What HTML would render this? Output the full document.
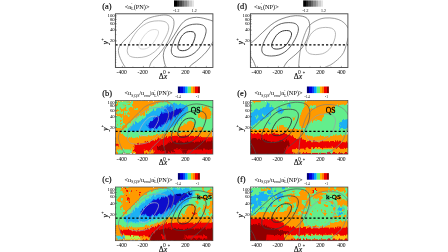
<!DOCTYPE html><html><head><meta charset="utf-8"><title>figure</title><style>html,body{margin:0;padding:0;background:#fff}svg{display:block}text{font-family:"Liberation Serif",serif;fill:#000}</style></head><body>
<svg width="448" height="252" viewBox="0 0 448 252">
<defs><clipPath id="cb"><rect x="0" y="0" width="97.5" height="53.7"/></clipPath>
<filter id="rg" x="-5%" y="-5%" width="110%" height="110%"><feTurbulence type="fractalNoise" baseFrequency="0.5 0.16" numOctaves="2" seed="3" result="n"/><feDisplacementMap in="SourceGraphic" in2="n" scale="4.2" xChannelSelector="R" yChannelSelector="G"/></filter>
<filter id="s1" x="-5%" y="-5%" width="110%" height="110%" color-interpolation-filters="sRGB"><feTurbulence type="fractalNoise" baseFrequency="0.20" numOctaves="2" seed="7" result="n"/><feColorMatrix in="n" type="matrix" values="0 0 0 0 0 0 0 0 0 0 0 0 0 0 0 16 0 0 0 -8.0" result="m"/><feComposite in="SourceGraphic" in2="m" operator="in"/></filter>
<filter id="s2" x="-5%" y="-5%" width="110%" height="110%" color-interpolation-filters="sRGB"><feTurbulence type="fractalNoise" baseFrequency="0.22" numOctaves="2" seed="11" result="n"/><feColorMatrix in="n" type="matrix" values="0 0 0 0 0 0 0 0 0 0 0 0 0 0 0 16 0 0 0 -9.3" result="m"/><feComposite in="SourceGraphic" in2="m" operator="in"/></filter>
<filter id="s3" x="-5%" y="-5%" width="110%" height="110%" color-interpolation-filters="sRGB"><feTurbulence type="fractalNoise" baseFrequency="0.25" numOctaves="2" seed="23" result="n"/><feColorMatrix in="n" type="matrix" values="0 0 0 0 0 0 0 0 0 0 0 0 0 0 0 16 0 0 0 -9.9" result="m"/><feComposite in="SourceGraphic" in2="m" operator="in"/></filter>
<filter id="s4" x="-5%" y="-5%" width="110%" height="110%" color-interpolation-filters="sRGB"><feTurbulence type="fractalNoise" baseFrequency="0.30" numOctaves="2" seed="31" result="n"/><feColorMatrix in="n" type="matrix" values="0 0 0 0 0 0 0 0 0 0 0 0 0 0 0 18 0 0 0 -12.2" result="m"/><feComposite in="SourceGraphic" in2="m" operator="in"/></filter>
<linearGradient id="gg" x1="0" x2="1" y1="0" y2="0">
<stop offset="0.000" stop-color="#000"/><stop offset="0.111" stop-color="#000"/>
<stop offset="0.111" stop-color="#222"/><stop offset="0.222" stop-color="#222"/>
<stop offset="0.222" stop-color="#444"/><stop offset="0.333" stop-color="#444"/>
<stop offset="0.333" stop-color="#666"/><stop offset="0.444" stop-color="#666"/>
<stop offset="0.444" stop-color="#888"/><stop offset="0.556" stop-color="#888"/>
<stop offset="0.556" stop-color="#aaa"/><stop offset="0.667" stop-color="#aaa"/>
<stop offset="0.667" stop-color="#ccc"/><stop offset="0.778" stop-color="#ccc"/>
<stop offset="0.778" stop-color="#e4e4e4"/><stop offset="0.889" stop-color="#e4e4e4"/>
<stop offset="0.889" stop-color="#fff"/><stop offset="1.000" stop-color="#fff"/>
</linearGradient>
<linearGradient id="gc" x1="0" x2="1" y1="0" y2="0">
<stop offset="0.000" stop-color="#000078"/><stop offset="0.094" stop-color="#000078"/>
<stop offset="0.094" stop-color="#0000d8"/><stop offset="0.245" stop-color="#0000d8"/>
<stop offset="0.245" stop-color="#0a3cf5"/><stop offset="0.302" stop-color="#0a3cf5"/>
<stop offset="0.302" stop-color="#00a0ff"/><stop offset="0.396" stop-color="#00a0ff"/>
<stop offset="0.396" stop-color="#38d0e8"/><stop offset="0.453" stop-color="#38d0e8"/>
<stop offset="0.453" stop-color="#62f07a"/><stop offset="0.604" stop-color="#62f07a"/>
<stop offset="0.604" stop-color="#ffb400"/><stop offset="0.679" stop-color="#ffb400"/>
<stop offset="0.679" stop-color="#ff7a00"/><stop offset="0.774" stop-color="#ff7a00"/>
<stop offset="0.774" stop-color="#f00000"/><stop offset="0.925" stop-color="#f00000"/>
<stop offset="0.925" stop-color="#8c0000"/><stop offset="1.000" stop-color="#8c0000"/>
</linearGradient></defs>
<rect width="448" height="252" fill="#fff"/>
<g transform="translate(115.40 13.80)">
<g clip-path="url(#cb)">
<path d="M10.0 53.7C9.4 52.7 7.4 49.8 6.4 47.8C5.4 45.8 4.5 43.7 3.9 41.9C3.3 40.1 3.0 38.4 3.0 36.9C3.0 35.4 3.3 34.1 4.1 32.6C4.9 31.1 6.0 29.9 7.8 27.9C9.6 25.9 12.4 23.3 15.0 20.7C17.6 18.1 20.9 14.8 23.3 12.4C25.7 10.0 27.4 7.8 29.6 6.3C31.9 4.8 34.0 4.0 36.8 3.2C39.6 2.4 43.8 1.7 46.3 1.4C48.8 1.1 50.0 1.2 51.5 1.4C53.0 1.6 53.9 1.9 55.0 2.6C56.1 3.3 57.4 4.2 58.0 5.5C58.6 6.8 58.7 8.5 58.6 10.3C58.5 12.1 58.0 14.3 57.4 16.3C56.8 18.3 55.9 20.2 55.0 22.2C54.1 24.2 53.1 26.6 52.1 28.4C51.1 30.2 50.2 31.4 49.2 32.9C48.2 34.4 47.4 35.7 46.3 37.1C45.2 38.5 44.0 40.0 42.7 41.4C41.4 42.8 39.8 43.9 38.6 45.2C37.4 46.5 36.4 47.6 35.6 49.0C34.8 50.4 34.1 52.9 33.8 53.7" fill="none" stroke="#707070" stroke-width="0.70"/>
<path d="M49.1 25.4C47.5 28.2 45.3 31.6 43.3 33.9C41.3 36.2 39.4 37.8 37.3 39.3C35.2 40.8 33.1 42.0 30.6 42.7C28.1 43.5 24.9 43.8 22.3 43.8C19.8 43.8 17.0 43.5 15.3 42.7C13.6 42.0 12.8 40.8 12.3 39.3C11.8 37.8 11.7 36.2 12.3 33.9C12.9 31.6 14.5 28.2 16.1 25.4C17.7 22.6 19.9 19.2 21.9 16.9C23.9 14.6 25.8 13.0 27.9 11.5C30.0 10.0 32.1 8.8 34.6 8.1C37.1 7.3 40.4 7.0 42.9 7.0C45.4 7.0 48.2 7.3 49.9 8.1C51.6 8.8 52.4 10.0 52.9 11.5C53.4 13.0 53.5 14.6 52.9 16.9C52.3 19.2 50.7 22.6 49.1 25.4Z" fill="none" stroke="#9a9a9a" stroke-width="0.70"/>
<path d="M40.3 25.5C39.4 27.0 38.1 28.8 37.1 30.0C36.1 31.2 35.1 32.1 34.1 32.9C33.1 33.7 32.1 34.3 31.0 34.7C29.9 35.1 28.5 35.3 27.4 35.3C26.3 35.3 25.1 35.1 24.5 34.7C23.9 34.3 23.6 33.7 23.5 32.9C23.4 32.1 23.5 31.2 24.0 30.0C24.5 28.8 25.4 27.0 26.3 25.5C27.2 24.0 28.5 22.2 29.5 21.0C30.5 19.8 31.5 18.9 32.5 18.1C33.5 17.3 34.5 16.7 35.6 16.3C36.7 15.9 38.1 15.7 39.2 15.7C40.3 15.7 41.5 15.9 42.1 16.3C42.8 16.7 43.0 17.3 43.1 18.1C43.2 18.9 43.1 19.8 42.6 21.0C42.1 22.2 41.2 24.0 40.3 25.5Z" fill="none" stroke="#c8c8c8" stroke-width="0.70"/>
<path d="M50.9 53.7C50.6 52.9 49.6 51.0 49.1 49.0C48.6 47.0 47.9 44.1 47.9 41.9C47.9 39.7 48.4 37.7 49.1 35.9C49.8 34.1 51.0 32.8 52.1 31.2C53.2 29.6 54.4 28.0 55.5 26.4C56.6 24.8 57.6 23.1 58.7 21.4C59.8 19.7 60.8 18.0 62.0 16.2C63.2 14.3 64.5 12.0 66.0 10.3C67.5 8.6 68.8 7.2 70.7 6.1C72.6 5.0 75.2 4.2 77.6 3.8C79.9 3.4 82.4 3.5 84.8 3.8C87.2 4.1 89.8 4.9 91.9 5.5C94.1 6.1 96.7 7.0 97.7 7.3" fill="none" stroke="#555" stroke-width="0.70"/>
<path d="M97.7 27.6C97.1 28.6 95.5 31.7 94.3 33.5C93.1 35.3 92.1 36.7 90.7 38.3C89.3 39.9 87.6 41.6 86.0 43.1C84.4 44.6 82.8 45.9 81.2 47.2C79.6 48.5 77.7 49.7 76.4 50.8C75.1 51.9 74.0 53.2 73.5 53.7" fill="none" stroke="#555" stroke-width="0.70"/>
<path d="M87.9 26.9C86.7 29.5 85.0 32.5 83.5 34.6C82.0 36.7 80.4 38.2 78.6 39.5C76.8 40.8 75.1 41.8 72.9 42.5C70.8 43.2 68.0 43.5 65.7 43.5C63.5 43.5 61.0 43.2 59.4 42.5C57.8 41.8 56.9 40.8 56.4 39.5C55.9 38.2 55.7 36.7 56.1 34.6C56.5 32.5 57.5 29.5 58.7 26.9C59.9 24.3 61.6 21.3 63.1 19.2C64.7 17.1 66.2 15.6 68.0 14.3C69.8 13.0 71.5 12.0 73.7 11.3C75.9 10.6 78.7 10.3 80.9 10.3C83.2 10.3 85.7 10.6 87.2 11.3C88.8 12.0 89.7 13.0 90.2 14.3C90.8 15.6 90.9 17.1 90.5 19.2C90.1 21.3 89.1 24.3 87.9 26.9Z" fill="none" stroke="#383838" stroke-width="0.80"/>
<path d="M78.4 27.3C77.8 28.8 77.0 30.6 76.2 31.8C75.4 33.0 74.6 33.9 73.7 34.6C72.8 35.4 72.0 35.9 70.9 36.3C69.8 36.7 68.4 36.9 67.3 36.9C66.2 36.9 64.9 36.7 64.1 36.3C63.3 35.9 63.0 35.4 62.7 34.6C62.4 33.9 62.3 33.0 62.5 31.8C62.7 30.6 63.2 28.8 63.8 27.3C64.4 25.8 65.2 24.0 66.0 22.8C66.8 21.6 67.6 20.8 68.5 20.0C69.4 19.2 70.2 18.7 71.3 18.3C72.4 17.9 73.8 17.7 74.9 17.7C76.0 17.7 77.3 17.9 78.1 18.3C78.9 18.7 79.2 19.2 79.5 20.0C79.8 20.8 79.9 21.6 79.7 22.8C79.5 24.0 79.0 25.8 78.4 27.3Z" fill="none" stroke="#222" stroke-width="0.90"/>
</g>
<path d="M0 31.05H97.5" stroke="#000" stroke-width="1.3" stroke-dasharray="2.2 2.0" fill="none"/>
<rect x="0" y="0" width="97.5" height="53.7" fill="none" stroke="#444" stroke-width="0.9"/>
<path d="M7.00 53.7v-1.6M17.50 53.7v-0.9M28.00 53.7v-1.6M38.50 53.7v-0.9M49.00 53.7v-1.6M59.50 53.7v-0.9M70.00 53.7v-1.6M80.50 53.7v-0.9M91.00 53.7v-1.6M0 52.12h0.9M0 48.65h0.9M0 45.82h0.9M0 43.42h0.9M0 41.35h0.9M0 39.51h0.9M0 37.88h0.9M0 27.10h1.6M0 20.80h0.9M0 16.32h1.6M0 12.85h0.9M0 10.02h1.6M0 7.62h0.9M0 5.55h1.6M0 3.71h0.9M0 2.08h1.6" stroke="#333" stroke-width="0.4" fill="none"/>
<text x="6.3" y="60.3" font-size="5.6" text-anchor="middle" fill="#111">-400</text>
<text x="27.3" y="60.3" font-size="5.6" text-anchor="middle" fill="#111">-200</text>
<text x="49.0" y="60.3" font-size="5.6" text-anchor="middle" fill="#111">0</text>
<text x="70.0" y="60.3" font-size="5.6" text-anchor="middle" fill="#111">200</text>
<text x="91.0" y="60.3" font-size="5.6" text-anchor="middle" fill="#111">400</text>
<text x="-0.7" y="3.5" font-size="4.8" text-anchor="end" fill="#111">100</text>
<text x="-0.7" y="6.9" font-size="4.8" text-anchor="end" fill="#111">80</text>
<text x="-0.7" y="11.4" font-size="4.8" text-anchor="end" fill="#111">60</text>
<text x="-0.7" y="17.7" font-size="4.8" text-anchor="end" fill="#111">40</text>
<text x="-0.7" y="28.5" font-size="4.8" text-anchor="end" fill="#111">20</text>
<text x="43.4" y="65.0" font-size="7.8" stroke="#000" stroke-width="0.1">Δ<tspan font-style="italic">x</tspan><tspan font-size="4.2" dy="-4.6" dx="0.4">+</tspan></text>
<text transform="translate(-7.8 30.4) rotate(-90)" font-size="7.2" stroke="#000" stroke-width="0.15"><tspan font-style="italic">y</tspan><tspan font-size="4.2" dy="-4.0" dx="0.3" stroke-width="0.1">+</tspan></text>
<text x="-13.2" y="-4.9" font-size="8.4" stroke="#000" stroke-width="0.15">(a)</text>
<text x="9.3" y="-5.2" font-size="6.3" fill="#222">&lt;<tspan font-style="italic">u</tspan><tspan font-size="4" dy="-2.2">′</tspan><tspan font-size="4" dy="3.6" dx="-1.1">L</tspan><tspan dy="-1.4">(PN)&gt;</tspan></text>
<rect x="58.6" y="-13.4" width="22.7" height="6.3" fill="url(#gg)"/>
<text x="60.9" y="-2.1" font-size="3.9" text-anchor="middle" fill="#222">-1.2</text>
<text x="78.9" y="-2.1" font-size="3.9" text-anchor="middle" fill="#222">1.2</text>
</g>
<g transform="translate(115.40 100.40)">
<g clip-path="url(#cb)">
<g filter="url(#rg)">
<rect x="0.0" y="0.0" width="97.6" height="53.7" fill="#ff9a00"/>
<path d="M4.5 31.8L6.0 29.2L9.9 27.6L14.1 22.8L18.8 18.1L23.0 15.4L28.9 15.4L31.0 10.9L34.1 6.6L39.7 4.1L46.2 2.4L51.4 1.4L52.5 4.5L54.0 -0.0L54.0 -4.8L101.3 -4.8L101.3 30.8L53.7 31.5L53.1 33.5L50.6 33.0L46.2 33.9L41.4 34.5L36.7 34.9L31.9 36.1L27.2 35.7L22.4 36.9L17.6 37.5L11.7 36.9L6.9 35.7Z" fill="#64ee8c"/>
<path d="M1.0 3.0L4.0 1.2L10.5 0.9L15.3 1.4L16.7 4.1L14.7 6.5L12.9 9.5L13.5 12.5L10.5 14.3L8.1 11.3L9.9 7.7L10.5 4.5L5.7 3.8L4.3 7.1L4.5 13.1L1.0 13.7Z" fill="#64ee8c"/>
<path d="M6.7 4.7L9.3 4.7L9.3 6.6L6.7 6.6Z" fill="#64ee8c"/>
<path d="M-1.4 16.6L3.4 15.4L6.9 17.2L7.5 20.2L5.7 23.2L6.3 27.6L-1.4 27.6Z" fill="#64ee8c"/>
<path d="M20.0 7.7L22.4 7.7L22.4 9.5L20.0 9.5Z" fill="#64ee8c"/>
<path d="M23.0 11.9L24.3 11.9L24.3 13.7L23.0 13.7Z" fill="#64ee8c"/>
</g>
<path d="M-1.4 -0.0L18.8 -0.0L16.4 10.7L9.3 26.2L-1.4 27.3Z" fill="#64ee8c" filter="url(#s2)"/>
<path d="M-1.4 -0.0L18.8 -0.0L16.4 10.7L9.3 26.2L-1.4 27.3Z" fill="#ff9a00" filter="url(#s3)"/>
<g filter="url(#rg)">
<path d="M82.3 14.3L85.9 11.9L87.7 6.5L91.8 5.9L95.4 8.3L96.0 13.1L94.2 18.4L89.4 19.0L85.9 17.8L82.9 17.2Z" fill="#ff9a00"/>
<path d="M72.5 22.0L75.2 20.2L78.1 21.4L79.3 26.2L71.0 30.4L61.8 30.4L62.7 27.4Z" fill="#ff9a00"/>
<path d="M70.4 30.4L71.0 27.3L74.6 26.3L78.7 26.6L81.1 28.2L80.9 30.4Z" fill="#ff9a00"/>
<path d="M81.1 30.4L81.3 27.4L84.7 26.2L87.7 27.4L87.1 30.4Z" fill="#ff9a00"/>
<path d="M11.1 30.9L13.5 27.6L16.5 24.7L20.6 22.0L26.0 20.2L29.8 17.2L33.1 13.7L36.7 10.7L41.4 8.1L46.2 6.1L53.2 4.0L60.3 3.2L68.6 4.2L72.6 5.6L72.8 10.1L70.6 14.1L66.6 18.1L62.1 22.1L57.6 26.1L52.6 29.8L49.6 30.9Z" fill="#1fb0f4"/>
<path d="M32.1 23.9L36.2 20.1L41.0 15.4L47.8 11.3L52.8 11.8L57.8 9.8L62.7 8.2L67.0 7.1L68.9 9.7L66.5 12.3L61.8 14.8L55.7 19.9L48.0 24.8L41.6 28.2L35.3 28.5L31.8 26.3Z" fill="#1468f2"/>
<path d="M48.4 8.1L54.6 6.1L58.6 7.6L56.6 11.6L50.6 13.1Z" fill="#1468f2"/>
<path d="M33.5 23.4L37.7 19.8L42.5 15.7L48.4 12.7L52.2 13.2L56.7 10.9L61.5 9.1L65.7 7.9L67.5 10.3L65.1 12.7L60.3 15.1L54.4 19.2L48.4 23.4L42.5 27.0L36.5 27.6L33.1 25.6Z" fill="#0a0acc"/>
<path d="M17.4 45.2L22.4 43.4L27.2 42.9L31.9 41.7L36.7 40.5L41.4 38.7L46.2 37.5L51.4 36.5L57.3 35.4L70.4 35.4L82.3 35.7L85.9 36.9L101.3 36.9L101.3 57.7L18.8 57.7L20.0 52.4L18.2 49.4L19.4 47.6Z" fill="#ee0606"/>
<path d="M28.3 50.4L37.9 49.8L38.5 53.0L28.9 53.4Z" fill="#ff9a00"/>
<path d="M42.6 45.8L50.6 44.6L53.7 41.7L64.4 40.8L76.3 41.7L88.2 40.8L101.3 41.1L101.3 49.4L85.9 49.2L71.6 49.4L58.5 48.8L50.2 50.0L46.2 51.2L42.9 49.4Z" fill="#900303"/>
<path d="M50.2 48.8L58.5 48.8L58.5 51.8L50.2 51.8Z" fill="#900303"/>
<path d="M66.8 49.4L71.6 49.4L71.6 52.4L66.8 52.4Z" fill="#900303"/>
<path d="M1.6 49.4L5.7 48.8L16.4 49.2L16.4 53.2L1.6 53.6Z" fill="#64ee8c"/>
<path d="M-1.4 43.4L2.2 43.4L2.2 46.4L-1.4 46.4Z" fill="#ee0606"/>
</g>
<path d="M10.0 53.7C9.4 52.7 7.4 49.8 6.4 47.8C5.4 45.8 4.5 43.7 3.9 41.9C3.3 40.1 3.0 38.4 3.0 36.9C3.0 35.4 3.3 34.1 4.1 32.6C4.9 31.1 6.0 29.9 7.8 27.9C9.6 25.9 12.4 23.3 15.0 20.7C17.6 18.1 20.9 14.8 23.3 12.4C25.7 10.0 27.4 7.8 29.6 6.3C31.9 4.8 34.0 4.0 36.8 3.2C39.6 2.4 43.8 1.7 46.3 1.4C48.8 1.1 50.0 1.2 51.5 1.4C53.0 1.6 53.9 1.9 55.0 2.6C56.1 3.3 57.4 4.2 58.0 5.5C58.6 6.8 58.7 8.5 58.6 10.3C58.5 12.1 58.0 14.3 57.4 16.3C56.8 18.3 55.9 20.2 55.0 22.2C54.1 24.2 53.1 26.6 52.1 28.4C51.1 30.2 50.2 31.4 49.2 32.9C48.2 34.4 47.4 35.7 46.3 37.1C45.2 38.5 44.0 40.0 42.7 41.4C41.4 42.8 39.8 43.9 38.6 45.2C37.4 46.5 36.4 47.6 35.6 49.0C34.8 50.4 34.1 52.9 33.8 53.7" fill="none" stroke="#808080" stroke-width="0.70"/>
<path d="M49.1 25.4C47.5 28.2 45.3 31.6 43.3 33.9C41.3 36.2 39.4 37.8 37.3 39.3C35.2 40.8 33.1 42.0 30.6 42.7C28.1 43.5 24.9 43.8 22.3 43.8C19.8 43.8 17.0 43.5 15.3 42.7C13.6 42.0 12.8 40.8 12.3 39.3C11.8 37.8 11.7 36.2 12.3 33.9C12.9 31.6 14.5 28.2 16.1 25.4C17.7 22.6 19.9 19.2 21.9 16.9C23.9 14.6 25.8 13.0 27.9 11.5C30.0 10.0 32.1 8.8 34.6 8.1C37.1 7.3 40.4 7.0 42.9 7.0C45.4 7.0 48.2 7.3 49.9 8.1C51.6 8.8 52.4 10.0 52.9 11.5C53.4 13.0 53.5 14.6 52.9 16.9C52.3 19.2 50.7 22.6 49.1 25.4Z" fill="none" stroke="#9aa0a6" stroke-width="0.70"/>
<path d="M40.3 25.5C39.4 27.0 38.1 28.8 37.1 30.0C36.1 31.2 35.1 32.1 34.1 32.9C33.1 33.7 32.1 34.3 31.0 34.7C29.9 35.1 28.5 35.3 27.4 35.3C26.3 35.3 25.1 35.1 24.5 34.7C23.9 34.3 23.6 33.7 23.5 32.9C23.4 32.1 23.5 31.2 24.0 30.0C24.5 28.8 25.4 27.0 26.3 25.5C27.2 24.0 28.5 22.2 29.5 21.0C30.5 19.8 31.5 18.9 32.5 18.1C33.5 17.3 34.5 16.7 35.6 16.3C36.7 15.9 38.1 15.7 39.2 15.7C40.3 15.7 41.5 15.9 42.1 16.3C42.8 16.7 43.0 17.3 43.1 18.1C43.2 18.9 43.1 19.8 42.6 21.0C42.1 22.2 41.2 24.0 40.3 25.5Z" fill="none" stroke="#b4bcc6" stroke-width="0.70"/>
<path d="M50.9 53.7C50.6 52.9 49.6 51.0 49.1 49.0C48.6 47.0 47.9 44.1 47.9 41.9C47.9 39.7 48.4 37.7 49.1 35.9C49.8 34.1 51.0 32.8 52.1 31.2C53.2 29.6 54.4 28.0 55.5 26.4C56.6 24.8 57.6 23.1 58.7 21.4C59.8 19.7 60.8 18.0 62.0 16.2C63.2 14.3 64.5 12.0 66.0 10.3C67.5 8.6 68.8 7.2 70.7 6.1C72.6 5.0 75.2 4.2 77.6 3.8C79.9 3.4 82.4 3.5 84.8 3.8C87.2 4.1 89.8 4.9 91.9 5.5C94.1 6.1 96.7 7.0 97.7 7.3" fill="none" stroke="#505050" stroke-width="0.70"/>
<path d="M97.7 27.6C97.1 28.6 95.5 31.7 94.3 33.5C93.1 35.3 92.1 36.7 90.7 38.3C89.3 39.9 87.6 41.6 86.0 43.1C84.4 44.6 82.8 45.9 81.2 47.2C79.6 48.5 77.7 49.7 76.4 50.8C75.1 51.9 74.0 53.2 73.5 53.7" fill="none" stroke="#505050" stroke-width="0.70"/>
<path d="M87.9 26.9C86.7 29.5 85.0 32.5 83.5 34.6C82.0 36.7 80.4 38.2 78.6 39.5C76.8 40.8 75.1 41.8 72.9 42.5C70.8 43.2 68.0 43.5 65.7 43.5C63.5 43.5 61.0 43.2 59.4 42.5C57.8 41.8 56.9 40.8 56.4 39.5C55.9 38.2 55.7 36.7 56.1 34.6C56.5 32.5 57.5 29.5 58.7 26.9C59.9 24.3 61.6 21.3 63.1 19.2C64.7 17.1 66.2 15.6 68.0 14.3C69.8 13.0 71.5 12.0 73.7 11.3C75.9 10.6 78.7 10.3 80.9 10.3C83.2 10.3 85.7 10.6 87.2 11.3C88.8 12.0 89.7 13.0 90.2 14.3C90.8 15.6 90.9 17.1 90.5 19.2C90.1 21.3 89.1 24.3 87.9 26.9Z" fill="none" stroke="#3e3e3e" stroke-width="0.80"/>
<path d="M78.4 27.3C77.8 28.8 77.0 30.6 76.2 31.8C75.4 33.0 74.6 33.9 73.7 34.6C72.8 35.4 72.0 35.9 70.9 36.3C69.8 36.7 68.4 36.9 67.3 36.9C66.2 36.9 64.9 36.7 64.1 36.3C63.3 35.9 63.0 35.4 62.7 34.6C62.4 33.9 62.3 33.0 62.5 31.8C62.7 30.6 63.2 28.8 63.8 27.3C64.4 25.8 65.2 24.0 66.0 22.8C66.8 21.6 67.6 20.8 68.5 20.0C69.4 19.2 70.2 18.7 71.3 18.3C72.4 17.9 73.8 17.7 74.9 17.7C76.0 17.7 77.3 17.9 78.1 18.3C78.9 18.7 79.2 19.2 79.5 20.0C79.8 20.8 79.9 21.6 79.7 22.8C79.5 24.0 79.0 25.8 78.4 27.3Z" fill="none" stroke="#2c2c2c" stroke-width="0.90"/>
</g>
<path d="M0 31.05H97.5" stroke="#000" stroke-width="1.3" stroke-dasharray="2.2 2.0" fill="none"/>
<rect x="0" y="0" width="97.5" height="53.7" fill="none" stroke="#444" stroke-width="0.7"/>
<path d="M7.00 53.7v-1.6M17.50 53.7v-0.9M28.00 53.7v-1.6M38.50 53.7v-0.9M49.00 53.7v-1.6M59.50 53.7v-0.9M70.00 53.7v-1.6M80.50 53.7v-0.9M91.00 53.7v-1.6M0 52.12h0.9M0 48.65h0.9M0 45.82h0.9M0 43.42h0.9M0 41.35h0.9M0 39.51h0.9M0 37.88h0.9M0 27.10h1.6M0 20.80h0.9M0 16.32h1.6M0 12.85h0.9M0 10.02h1.6M0 7.62h0.9M0 5.55h1.6M0 3.71h0.9M0 2.08h1.6" stroke="#333" stroke-width="0.4" fill="none"/>
<text x="6.3" y="60.3" font-size="5.6" text-anchor="middle" fill="#111">-400</text>
<text x="27.3" y="60.3" font-size="5.6" text-anchor="middle" fill="#111">-200</text>
<text x="49.0" y="60.3" font-size="5.6" text-anchor="middle" fill="#111">0</text>
<text x="70.0" y="60.3" font-size="5.6" text-anchor="middle" fill="#111">200</text>
<text x="91.0" y="60.3" font-size="5.6" text-anchor="middle" fill="#111">400</text>
<text x="-0.7" y="3.5" font-size="4.8" text-anchor="end" fill="#111">100</text>
<text x="-0.7" y="6.9" font-size="4.8" text-anchor="end" fill="#111">80</text>
<text x="-0.7" y="11.4" font-size="4.8" text-anchor="end" fill="#111">60</text>
<text x="-0.7" y="17.7" font-size="4.8" text-anchor="end" fill="#111">40</text>
<text x="-0.7" y="28.5" font-size="4.8" text-anchor="end" fill="#111">20</text>
<text x="43.4" y="65.0" font-size="7.8" stroke="#000" stroke-width="0.1">Δ<tspan font-style="italic">x</tspan><tspan font-size="4.2" dy="-4.6" dx="0.4">+</tspan></text>
<text transform="translate(-7.8 30.4) rotate(-90)" font-size="7.2" stroke="#000" stroke-width="0.15"><tspan font-style="italic">y</tspan><tspan font-size="4.2" dy="-4.0" dx="0.3" stroke-width="0.1">+</tspan></text>
<text x="-13.2" y="-4.9" font-size="8.4" stroke="#000" stroke-width="0.15">(b)</text>
<text x="9.1" y="-5.2" font-size="6.3" fill="#222">&lt;<tspan font-style="italic">u</tspan><tspan font-size="3.9" dy="1.6">S,QS</tspan><tspan dy="-1.6">/</tspan><tspan font-style="italic">u</tspan><tspan font-size="3.9" dy="1.6">rms</tspan><tspan dy="-1.6">|</tspan><tspan font-style="italic">u</tspan><tspan font-size="4" dy="-2.2">′</tspan><tspan font-size="4" dy="3.6" dx="-1.1">L</tspan><tspan dy="-1.4">(PN)&gt;</tspan></text>
<rect x="62.5" y="-13.9" width="22.0" height="6.6" fill="url(#gc)"/>
<text x="62.7" y="-2.1" font-size="3.4" text-anchor="middle" fill="#222">-1.4</text>
<text x="82.1" y="-2.1" font-size="3.4" text-anchor="middle" fill="#222">-1</text>
<text x="80.2" y="13.0" font-size="7.7" text-anchor="middle" stroke="#000" stroke-width="0.28">QS</text>
</g>
<g transform="translate(115.40 187.00)">
<g clip-path="url(#cb)">
<g filter="url(#rg)">
<rect x="0.0" y="0.0" width="97.6" height="53.7" fill="#ff9a00"/>
<path d="M-1.4 0.6L4.0 0.3L5.7 2.4L3.4 5.3L4.5 8.9L2.2 10.1L-1.4 9.5Z" fill="#64ee8c"/>
<path d="M-1.4 14.8L3.4 14.3L5.1 17.2L4.5 20.8L6.9 24.4L8.1 27.0L5.7 30.4L-1.4 30.4Z" fill="#64ee8c"/>
<path d="M11.7 11.3L14.1 11.3L14.1 14.3L11.7 14.3Z" fill="#ee0606"/>
<path d="M15.3 2.4L17.6 2.4L17.6 3.7L15.3 3.7Z" fill="#ee0606"/>
</g>
<path d="M-1.4 -0.6L16.4 -0.6L12.9 11.3L9.3 27.0L-1.4 27.0Z" fill="#64ee8c" filter="url(#s2)"/>
<path d="M5.7 0.6L34.3 0.6L16.4 16.0L5.7 16.0Z" fill="#ee0606" filter="url(#s4)"/>
<path d="M-1.4 -0.6L5.7 -0.6L6.9 27.0L-1.4 27.0Z" fill="#64ee8c" filter="url(#s1)"/>
<g filter="url(#rg)">
<path d="M-1.4 37.5L-1.4 30.4L5.7 29.8L9.9 27.0L13.5 23.2L17.6 18.4L22.4 13.7L27.2 8.9L31.9 5.6L37.9 3.2L45.0 2.0L51.4 1.5L53.7 -0.4L85.9 -0.4L87.1 4.1L97.2 8.3L101.3 8.3L101.3 29.8L82.3 29.8L65.6 30.2L52.5 30.7L52.5 32.9L46.6 33.3L46.2 35.1L40.2 36.3L34.3 38.1L27.2 39.9L20.0 40.5L12.9 39.9L5.7 38.7Z" fill="#64ee8c"/>
<path d="M70.4 27.0L71.0 22.6L73.4 19.0L77.5 17.8L81.1 19.6L82.3 23.2L82.3 27.0L82.3 30.0L65.6 30.0L66.2 26.2Z" fill="#ff9a00"/>
<path d="M77.8 25.1L80.2 25.1L80.2 27.5L77.8 27.5Z" fill="#ee0606"/>
<path d="M89.7 10.7L93.6 7.5L101.3 7.1L101.3 27.0L88.2 27.0L87.8 20.8L89.2 16.0Z" fill="#ff9a00"/>
<path d="M87.1 -0.4L101.3 -0.4L101.3 3.9L94.2 3.2L88.2 3.7Z" fill="#ff9a00"/>
</g>
<path d="M87.1 -0.4L101.3 -0.4L101.3 27.0L89.4 27.0Z" fill="#64ee8c" filter="url(#s1)"/>
<path d="M79.9 6.5L91.8 6.5L91.8 27.0L79.9 27.0Z" fill="#ff9a00" filter="url(#s2)"/>
<g filter="url(#rg)">
<path d="M7.0 30.2L13.2 27.1L16.7 23.9L20.8 20.0L25.6 16.0L30.5 11.9L35.2 8.1L40.7 5.5L46.5 3.9L52.4 2.1L60.0 1.0L66.2 0.6L72.3 0.9L77.2 2.0L79.8 3.9L79.1 7.9L75.8 12.6L71.8 16.4L66.3 20.8L60.6 25.5L53.9 29.7L46.9 32.4L35.5 33.4L33.5 36.4L20.9 36.4L9.6 35.0L6.5 32.3Z" fill="#3cd6dc"/>
<path d="M9.1 29.5L15.3 26.5L18.8 23.4L23.0 19.8L27.8 16.2L32.5 12.7L36.7 9.7L41.4 7.6L46.2 6.1L51.4 4.1L58.5 2.6L64.5 2.0L70.4 2.0L75.2 3.0L77.8 4.7L77.0 8.5L73.6 13.0L69.6 16.5L64.1 20.5L58.6 24.5L52.6 28.0L46.6 30.2L36.6 31.5L34.6 34.5L22.6 35.0L11.6 34.0L8.6 31.5Z" fill="#1fb0f4"/>
<path d="M24.5 24.9L29.2 19.9L34.3 16.0L39.4 12.3L45.9 9.7L53.0 7.9L59.3 7.0L66.7 5.7L72.3 5.9L75.0 8.4L71.2 11.2L65.7 14.3L59.7 18.2L54.4 22.5L47.8 26.8L41.7 28.6L33.1 29.4L25.7 27.4Z" fill="#1468f2"/>
<path d="M25.7 24.5L30.5 19.7L35.6 16.0L40.6 12.8L46.6 10.8L52.6 9.1L58.4 7.9L65.6 6.4L71.1 6.5L73.8 8.8L69.9 11.5L64.4 14.5L58.4 18.0L53.6 21.5L48.1 25.5L42.4 27.5L34.1 28.6L26.9 26.9Z" fill="#0a0acc"/>
<path d="M60.9 7.2L65.6 7.0L65.6 8.9L60.9 8.9Z" fill="#000088"/>
<path d="M72.8 5.3L75.2 5.3L75.2 7.2L72.8 7.2Z" fill="#000088"/>
<path d="M-1.4 37.9L4.5 38.3L4.5 47.6L-1.4 47.6Z" fill="#ff9a00"/>
<path d="M4.5 42.8L12.9 42.8L20.0 43.8L27.2 43.1L34.3 41.2L40.2 39.0L46.2 37.5L51.4 35.9L64.4 35.5L82.3 35.7L101.3 35.5L101.3 57.1L27.2 57.1L26.0 48.8L12.9 48.2L5.7 47.0Z" fill="#ee0606"/>
<path d="M36.7 46.4L40.2 44.0L46.2 42.3L51.4 41.4L64.4 41.9L82.3 41.4L101.3 41.7L101.3 57.1L34.3 57.1L34.9 49.4Z" fill="#900303"/>
<path d="M69.2 48.4L91.8 48.4L91.8 51.7L69.2 51.7Z" fill="#ee0606"/>
<path d="M46.6 47.6L50.2 47.6L50.2 53.6L46.6 53.6Z" fill="#ee0606"/>
<path d="M1.0 48.8L10.5 48.8L10.5 52.4L1.0 52.4Z" fill="#3cd6dc"/>
<path d="M10.5 48.8L26.0 49.0L26.0 52.6L10.5 52.4Z" fill="#b4f050"/>
<path d="M26.0 49.4L34.3 49.4L34.3 52.6L26.0 52.6Z" fill="#ff9a00"/>
</g>
<path d="M10.0 53.7C9.4 52.7 7.4 49.8 6.4 47.8C5.4 45.8 4.5 43.7 3.9 41.9C3.3 40.1 3.0 38.4 3.0 36.9C3.0 35.4 3.3 34.1 4.1 32.6C4.9 31.1 6.0 29.9 7.8 27.9C9.6 25.9 12.4 23.3 15.0 20.7C17.6 18.1 20.9 14.8 23.3 12.4C25.7 10.0 27.4 7.8 29.6 6.3C31.9 4.8 34.0 4.0 36.8 3.2C39.6 2.4 43.8 1.7 46.3 1.4C48.8 1.1 50.0 1.2 51.5 1.4C53.0 1.6 53.9 1.9 55.0 2.6C56.1 3.3 57.4 4.2 58.0 5.5C58.6 6.8 58.7 8.5 58.6 10.3C58.5 12.1 58.0 14.3 57.4 16.3C56.8 18.3 55.9 20.2 55.0 22.2C54.1 24.2 53.1 26.6 52.1 28.4C51.1 30.2 50.2 31.4 49.2 32.9C48.2 34.4 47.4 35.7 46.3 37.1C45.2 38.5 44.0 40.0 42.7 41.4C41.4 42.8 39.8 43.9 38.6 45.2C37.4 46.5 36.4 47.6 35.6 49.0C34.8 50.4 34.1 52.9 33.8 53.7" fill="none" stroke="#808080" stroke-width="0.70"/>
<path d="M49.1 25.4C47.5 28.2 45.3 31.6 43.3 33.9C41.3 36.2 39.4 37.8 37.3 39.3C35.2 40.8 33.1 42.0 30.6 42.7C28.1 43.5 24.9 43.8 22.3 43.8C19.8 43.8 17.0 43.5 15.3 42.7C13.6 42.0 12.8 40.8 12.3 39.3C11.8 37.8 11.7 36.2 12.3 33.9C12.9 31.6 14.5 28.2 16.1 25.4C17.7 22.6 19.9 19.2 21.9 16.9C23.9 14.6 25.8 13.0 27.9 11.5C30.0 10.0 32.1 8.8 34.6 8.1C37.1 7.3 40.4 7.0 42.9 7.0C45.4 7.0 48.2 7.3 49.9 8.1C51.6 8.8 52.4 10.0 52.9 11.5C53.4 13.0 53.5 14.6 52.9 16.9C52.3 19.2 50.7 22.6 49.1 25.4Z" fill="none" stroke="#9aa0a6" stroke-width="0.70"/>
<path d="M40.3 25.5C39.4 27.0 38.1 28.8 37.1 30.0C36.1 31.2 35.1 32.1 34.1 32.9C33.1 33.7 32.1 34.3 31.0 34.7C29.9 35.1 28.5 35.3 27.4 35.3C26.3 35.3 25.1 35.1 24.5 34.7C23.9 34.3 23.6 33.7 23.5 32.9C23.4 32.1 23.5 31.2 24.0 30.0C24.5 28.8 25.4 27.0 26.3 25.5C27.2 24.0 28.5 22.2 29.5 21.0C30.5 19.8 31.5 18.9 32.5 18.1C33.5 17.3 34.5 16.7 35.6 16.3C36.7 15.9 38.1 15.7 39.2 15.7C40.3 15.7 41.5 15.9 42.1 16.3C42.8 16.7 43.0 17.3 43.1 18.1C43.2 18.9 43.1 19.8 42.6 21.0C42.1 22.2 41.2 24.0 40.3 25.5Z" fill="none" stroke="#b4bcc6" stroke-width="0.70"/>
<path d="M50.9 53.7C50.6 52.9 49.6 51.0 49.1 49.0C48.6 47.0 47.9 44.1 47.9 41.9C47.9 39.7 48.4 37.7 49.1 35.9C49.8 34.1 51.0 32.8 52.1 31.2C53.2 29.6 54.4 28.0 55.5 26.4C56.6 24.8 57.6 23.1 58.7 21.4C59.8 19.7 60.8 18.0 62.0 16.2C63.2 14.3 64.5 12.0 66.0 10.3C67.5 8.6 68.8 7.2 70.7 6.1C72.6 5.0 75.2 4.2 77.6 3.8C79.9 3.4 82.4 3.5 84.8 3.8C87.2 4.1 89.8 4.9 91.9 5.5C94.1 6.1 96.7 7.0 97.7 7.3" fill="none" stroke="#505050" stroke-width="0.70"/>
<path d="M97.7 27.6C97.1 28.6 95.5 31.7 94.3 33.5C93.1 35.3 92.1 36.7 90.7 38.3C89.3 39.9 87.6 41.6 86.0 43.1C84.4 44.6 82.8 45.9 81.2 47.2C79.6 48.5 77.7 49.7 76.4 50.8C75.1 51.9 74.0 53.2 73.5 53.7" fill="none" stroke="#505050" stroke-width="0.70"/>
<path d="M87.9 26.9C86.7 29.5 85.0 32.5 83.5 34.6C82.0 36.7 80.4 38.2 78.6 39.5C76.8 40.8 75.1 41.8 72.9 42.5C70.8 43.2 68.0 43.5 65.7 43.5C63.5 43.5 61.0 43.2 59.4 42.5C57.8 41.8 56.9 40.8 56.4 39.5C55.9 38.2 55.7 36.7 56.1 34.6C56.5 32.5 57.5 29.5 58.7 26.9C59.9 24.3 61.6 21.3 63.1 19.2C64.7 17.1 66.2 15.6 68.0 14.3C69.8 13.0 71.5 12.0 73.7 11.3C75.9 10.6 78.7 10.3 80.9 10.3C83.2 10.3 85.7 10.6 87.2 11.3C88.8 12.0 89.7 13.0 90.2 14.3C90.8 15.6 90.9 17.1 90.5 19.2C90.1 21.3 89.1 24.3 87.9 26.9Z" fill="none" stroke="#3e3e3e" stroke-width="0.80"/>
<path d="M78.4 27.3C77.8 28.8 77.0 30.6 76.2 31.8C75.4 33.0 74.6 33.9 73.7 34.6C72.8 35.4 72.0 35.9 70.9 36.3C69.8 36.7 68.4 36.9 67.3 36.9C66.2 36.9 64.9 36.7 64.1 36.3C63.3 35.9 63.0 35.4 62.7 34.6C62.4 33.9 62.3 33.0 62.5 31.8C62.7 30.6 63.2 28.8 63.8 27.3C64.4 25.8 65.2 24.0 66.0 22.8C66.8 21.6 67.6 20.8 68.5 20.0C69.4 19.2 70.2 18.7 71.3 18.3C72.4 17.9 73.8 17.7 74.9 17.7C76.0 17.7 77.3 17.9 78.1 18.3C78.9 18.7 79.2 19.2 79.5 20.0C79.8 20.8 79.9 21.6 79.7 22.8C79.5 24.0 79.0 25.8 78.4 27.3Z" fill="none" stroke="#2c2c2c" stroke-width="0.90"/>
</g>
<path d="M0 31.05H97.5" stroke="#000" stroke-width="1.3" stroke-dasharray="2.2 2.0" fill="none"/>
<rect x="0" y="0" width="97.5" height="53.7" fill="none" stroke="#444" stroke-width="0.7"/>
<path d="M7.00 53.7v-1.6M17.50 53.7v-0.9M28.00 53.7v-1.6M38.50 53.7v-0.9M49.00 53.7v-1.6M59.50 53.7v-0.9M70.00 53.7v-1.6M80.50 53.7v-0.9M91.00 53.7v-1.6M0 52.12h0.9M0 48.65h0.9M0 45.82h0.9M0 43.42h0.9M0 41.35h0.9M0 39.51h0.9M0 37.88h0.9M0 27.10h1.6M0 20.80h0.9M0 16.32h1.6M0 12.85h0.9M0 10.02h1.6M0 7.62h0.9M0 5.55h1.6M0 3.71h0.9M0 2.08h1.6" stroke="#333" stroke-width="0.4" fill="none"/>
<text x="6.3" y="60.3" font-size="5.6" text-anchor="middle" fill="#111">-400</text>
<text x="27.3" y="60.3" font-size="5.6" text-anchor="middle" fill="#111">-200</text>
<text x="49.0" y="60.3" font-size="5.6" text-anchor="middle" fill="#111">0</text>
<text x="70.0" y="60.3" font-size="5.6" text-anchor="middle" fill="#111">200</text>
<text x="91.0" y="60.3" font-size="5.6" text-anchor="middle" fill="#111">400</text>
<text x="-0.7" y="3.5" font-size="4.8" text-anchor="end" fill="#111">100</text>
<text x="-0.7" y="6.9" font-size="4.8" text-anchor="end" fill="#111">80</text>
<text x="-0.7" y="11.4" font-size="4.8" text-anchor="end" fill="#111">60</text>
<text x="-0.7" y="17.7" font-size="4.8" text-anchor="end" fill="#111">40</text>
<text x="-0.7" y="28.5" font-size="4.8" text-anchor="end" fill="#111">20</text>
<text x="43.4" y="65.0" font-size="7.8" stroke="#000" stroke-width="0.1">Δ<tspan font-style="italic">x</tspan><tspan font-size="4.2" dy="-4.6" dx="0.4">+</tspan></text>
<text transform="translate(-7.8 30.4) rotate(-90)" font-size="7.2" stroke="#000" stroke-width="0.15"><tspan font-style="italic">y</tspan><tspan font-size="4.2" dy="-4.0" dx="0.3" stroke-width="0.1">+</tspan></text>
<text x="-13.2" y="-4.9" font-size="8.4" stroke="#000" stroke-width="0.15">(c)</text>
<text x="9.1" y="-5.2" font-size="6.3" fill="#222">&lt;<tspan font-style="italic">u</tspan><tspan font-size="3.9" dy="1.6">S,QS</tspan><tspan dy="-1.6">/</tspan><tspan font-style="italic">u</tspan><tspan font-size="3.9" dy="1.6">rms</tspan><tspan dy="-1.6">|</tspan><tspan font-style="italic">u</tspan><tspan font-size="4" dy="-2.2">′</tspan><tspan font-size="4" dy="3.6" dx="-1.1">L</tspan><tspan dy="-1.4">(PN)&gt;</tspan></text>
<rect x="62.5" y="-13.9" width="22.0" height="6.6" fill="url(#gc)"/>
<text x="62.7" y="-2.1" font-size="3.4" text-anchor="middle" fill="#222">-1.4</text>
<text x="82.1" y="-2.1" font-size="3.4" text-anchor="middle" fill="#222">-1</text>
<text x="89.0" y="12.2" font-size="7.1" text-anchor="middle" stroke="#000" stroke-width="0.28">k-QS</text>
</g>
<g transform="translate(250.40 13.80)">
<g clip-path="url(#cb)">
<path d="M0.0 29.8C0.8 29.1 3.2 27.2 4.7 25.8C6.2 24.4 7.7 23.0 9.3 21.4C11.0 19.8 12.7 18.1 14.6 16.4C16.5 14.7 18.5 12.6 20.7 11.0C22.9 9.4 25.2 7.8 27.7 6.6C30.2 5.4 32.9 4.4 35.7 3.6C38.6 2.8 41.8 2.0 44.8 1.9C47.8 1.8 51.7 2.1 54.0 3.0C56.3 3.9 57.8 5.3 58.6 7.6C59.5 9.9 59.5 13.7 59.1 16.8C58.7 19.9 57.5 23.1 56.3 26.0C55.1 28.9 53.6 31.6 51.7 34.1C49.8 36.6 47.1 38.9 44.8 41.0C42.5 43.1 39.6 45.1 37.9 46.8C36.2 48.5 35.2 50.2 34.4 51.4C33.6 52.6 33.5 53.5 33.3 53.9" fill="none" stroke="#555" stroke-width="0.70"/>
<path d="M0.0 42.2C0.5 43.2 2.4 46.0 3.3 47.9C4.2 49.8 5.2 52.9 5.6 53.9" fill="none" stroke="#555" stroke-width="0.70"/>
<path d="M44.6 25.5C43.3 28.1 41.4 31.1 39.7 33.2C38.0 35.3 36.3 36.9 34.4 38.2C32.5 39.5 30.7 40.5 28.5 41.2C26.3 41.9 23.3 42.2 21.0 42.2C18.7 42.2 16.1 41.9 14.6 41.2C13.1 40.5 12.3 39.5 11.8 38.2C11.3 36.9 11.2 35.3 11.7 33.2C12.2 31.1 13.5 28.1 14.8 25.5C16.1 22.9 18.0 19.9 19.7 17.8C21.4 15.7 23.1 14.1 25.0 12.8C26.9 11.5 28.7 10.5 30.9 9.8C33.1 9.1 36.1 8.8 38.4 8.8C40.7 8.8 43.3 9.1 44.8 9.8C46.3 10.5 47.1 11.5 47.6 12.8C48.1 14.1 48.2 15.7 47.7 17.8C47.2 19.9 45.9 22.9 44.6 25.5Z" fill="none" stroke="#383838" stroke-width="0.80"/>
<path d="M39.2 26.0C38.5 27.4 37.4 29.1 36.5 30.3C35.6 31.5 34.6 32.3 33.6 33.0C32.6 33.7 31.6 34.3 30.4 34.7C29.2 35.1 27.6 35.3 26.4 35.3C25.2 35.3 23.8 35.1 23.0 34.7C22.2 34.3 21.8 33.7 21.5 33.0C21.2 32.3 21.1 31.5 21.4 30.3C21.7 29.1 22.4 27.4 23.2 26.0C23.9 24.6 25.0 22.9 25.9 21.7C26.8 20.5 27.8 19.7 28.8 19.0C29.8 18.3 30.8 17.7 32.0 17.3C33.2 16.9 34.8 16.7 36.0 16.7C37.2 16.7 38.6 16.9 39.4 17.3C40.2 17.7 40.6 18.3 40.9 19.0C41.2 19.7 41.3 20.5 41.0 21.7C40.7 22.9 40.0 24.6 39.2 26.0Z" fill="none" stroke="#222" stroke-width="0.90"/>
<path d="M48.2 53.9C48.3 52.3 48.5 48.0 48.9 44.5C49.3 41.0 49.6 36.9 50.5 33.0C51.4 29.1 52.6 24.9 54.0 21.4C55.4 17.9 56.5 14.7 58.6 12.2C60.7 9.7 64.0 7.8 66.7 6.5C69.4 5.2 71.8 4.5 74.7 4.2C77.6 3.9 81.3 4.1 84.0 4.6C86.7 5.1 89.0 6.0 90.9 7.0C92.8 8.1 94.4 9.7 95.5 10.9C96.6 12.1 97.3 13.8 97.7 14.4" fill="none" stroke="#707070" stroke-width="0.70"/>
<path d="M97.7 23.9C97.4 25.1 96.5 28.9 95.7 31.4C95.0 33.9 94.4 36.5 93.2 38.7C92.0 40.9 90.5 42.6 88.6 44.5C86.7 46.4 83.5 48.9 81.6 50.2C79.7 51.5 78.3 51.9 77.0 52.5C75.7 53.1 74.2 53.7 73.6 53.9" fill="none" stroke="#707070" stroke-width="0.70"/>
<path d="M83.7 27.2C83.0 29.3 81.8 31.8 80.6 33.5C79.4 35.2 78.2 36.4 76.7 37.5C75.2 38.6 73.8 39.5 71.9 40.0C70.0 40.5 67.5 40.8 65.4 40.8C63.3 40.8 61.0 40.5 59.5 40.0C58.0 39.5 57.1 38.6 56.4 37.5C55.7 36.4 55.4 35.2 55.5 33.5C55.6 31.8 56.1 29.3 56.9 27.2C57.6 25.1 58.8 22.6 60.0 20.9C61.2 19.2 62.4 18.0 63.9 16.9C65.3 15.8 66.8 14.9 68.7 14.4C70.6 13.9 73.1 13.6 75.2 13.6C77.3 13.6 79.6 13.9 81.1 14.4C82.6 14.9 83.5 15.8 84.2 16.9C84.9 18.0 85.2 19.2 85.1 20.9C85.0 22.6 84.5 25.1 83.7 27.2Z" fill="none" stroke="#9a9a9a" stroke-width="0.70"/>
</g>
<path d="M0 31.05H97.5" stroke="#000" stroke-width="1.3" stroke-dasharray="2.2 2.0" fill="none"/>
<rect x="0" y="0" width="97.5" height="53.7" fill="none" stroke="#444" stroke-width="0.9"/>
<path d="M7.00 53.7v-1.6M17.50 53.7v-0.9M28.00 53.7v-1.6M38.50 53.7v-0.9M49.00 53.7v-1.6M59.50 53.7v-0.9M70.00 53.7v-1.6M80.50 53.7v-0.9M91.00 53.7v-1.6M0 52.12h0.9M0 48.65h0.9M0 45.82h0.9M0 43.42h0.9M0 41.35h0.9M0 39.51h0.9M0 37.88h0.9M0 27.10h1.6M0 20.80h0.9M0 16.32h1.6M0 12.85h0.9M0 10.02h1.6M0 7.62h0.9M0 5.55h1.6M0 3.71h0.9M0 2.08h1.6" stroke="#333" stroke-width="0.4" fill="none"/>
<text x="6.3" y="60.3" font-size="5.6" text-anchor="middle" fill="#111">-400</text>
<text x="27.3" y="60.3" font-size="5.6" text-anchor="middle" fill="#111">-200</text>
<text x="49.0" y="60.3" font-size="5.6" text-anchor="middle" fill="#111">0</text>
<text x="70.0" y="60.3" font-size="5.6" text-anchor="middle" fill="#111">200</text>
<text x="91.0" y="60.3" font-size="5.6" text-anchor="middle" fill="#111">400</text>
<text x="-0.7" y="3.5" font-size="4.8" text-anchor="end" fill="#111">100</text>
<text x="-0.7" y="6.9" font-size="4.8" text-anchor="end" fill="#111">80</text>
<text x="-0.7" y="11.4" font-size="4.8" text-anchor="end" fill="#111">60</text>
<text x="-0.7" y="17.7" font-size="4.8" text-anchor="end" fill="#111">40</text>
<text x="-0.7" y="28.5" font-size="4.8" text-anchor="end" fill="#111">20</text>
<text x="43.4" y="65.0" font-size="7.8" stroke="#000" stroke-width="0.1">Δ<tspan font-style="italic">x</tspan><tspan font-size="4.2" dy="-4.6" dx="0.4">+</tspan></text>
<text transform="translate(-7.8 30.4) rotate(-90)" font-size="7.2" stroke="#000" stroke-width="0.15"><tspan font-style="italic">y</tspan><tspan font-size="4.2" dy="-4.0" dx="0.3" stroke-width="0.1">+</tspan></text>
<text x="-13.2" y="-4.9" font-size="8.4" stroke="#000" stroke-width="0.15">(d)</text>
<text x="3.6" y="-5.2" font-size="6.3" fill="#222">&lt;<tspan font-style="italic">u</tspan><tspan font-size="4" dy="-2.2">′</tspan><tspan font-size="4" dy="3.6" dx="-1.1">L</tspan><tspan dy="-1.4">(NP)&gt;</tspan></text>
<rect x="52.8" y="-13.4" width="22.7" height="6.3" fill="url(#gg)"/>
<text x="55.1" y="-2.1" font-size="3.9" text-anchor="middle" fill="#222">-1.2</text>
<text x="73.1" y="-2.1" font-size="3.9" text-anchor="middle" fill="#222">1.2</text>
</g>
<g transform="translate(250.40 100.40)">
<g clip-path="url(#cb)">
<g filter="url(#rg)">
<rect x="0.0" y="0.0" width="97.6" height="53.7" fill="#64ee8c"/>
<path d="M2.2 -1.2L10.5 -1.2L10.5 1.8L2.2 1.8Z" fill="#ff9a00"/>
<path d="M1.0 12.5L4.5 10.1L9.3 8.3L15.3 6.5L16.4 2.4L19.4 3.0L18.8 7.1L22.4 5.9L23.6 8.3L21.2 11.3L18.8 14.3L16.4 17.2L12.9 19.6L9.3 21.4L5.7 23.2L1.6 25.6L-1.4 25.6L-1.4 14.3Z" fill="#1fb0f4"/>
<path d="M5.7 15.4L8.1 15.4L8.1 17.8L5.7 17.8Z" fill="#64ee8c"/>
<path d="M11.7 14.3L15.3 14.3L15.3 16.6L11.7 16.6Z" fill="#64ee8c"/>
<path d="M26.6 10.7L28.3 7.1L31.3 6.5L33.1 9.5L31.9 13.1L28.9 14.3Z" fill="#1fb0f4"/>
<path d="M36.4 4.1L39.1 3.0L40.5 4.7L39.7 7.1L37.3 6.9Z" fill="#1fb0f4"/>
<path d="M18.8 21.4L20.6 21.4L20.6 23.2L18.8 23.2Z" fill="#1fb0f4"/>
<path d="M49.6 27.6L48.7 21.4L49.2 15.4L52.0 10.1L55.5 5.9L53.1 3.0L56.1 -1.2L101.3 -1.2L101.3 3.5L91.8 4.1L85.9 5.0L82.9 7.1L84.7 10.1L81.1 12.5L76.3 12.8L73.4 15.4L71.0 20.2L65.6 19.0L60.9 21.4L56.1 25.0L53.7 27.6Z" fill="#ff9a00"/>
<path d="M59.5 5.0L64.4 4.7L64.4 8.1L59.5 8.3Z" fill="#64ee8c"/>
<path d="M42.6 17.2L44.5 17.2L44.5 20.2L42.6 20.2Z" fill="#ff9a00"/>
<path d="M87.7 27.6L89.4 23.2L93.0 19.6L101.3 17.8L101.3 28.6L87.1 28.6Z" fill="#1fb0f4"/>
<path d="M27.2 27.6L28.3 25.2L32.5 24.7L35.5 26.2L36.7 27.6L34.3 28.6L50.6 28.6L52.5 29.2L53.7 33.0L58.5 35.1L64.4 36.3L70.4 35.7L77.5 36.1L84.7 35.1L91.8 34.5L101.3 33.9L101.3 52.4L46.6 53.2L42.6 53.2L42.6 37.5L37.9 33.5L-1.4 33.5L-1.4 28.6L27.2 28.6Z" fill="#ff9a00"/>
<path d="M-1.4 33.3L37.9 33.3L43.8 37.5L50.6 37.5L53.7 40.5L70.4 41.1L82.3 40.5L91.8 41.7L101.3 42.3L101.3 47.6L82.3 47.4L64.4 47.7L51.4 48.4L42.6 49.0L42.9 53.2L50.6 53.2L51.4 52.5L101.3 52.5L101.3 57.7L-1.4 57.7Z" fill="#ee0606"/>
<path d="M42.9 49.2L50.6 48.8L51.4 48.2L51.4 52.5L42.9 53.0Z" fill="#ff9a00"/>
<path d="M-1.4 39.9L5.7 38.1L11.7 38.7L17.6 40.5L26.0 41.7L33.1 40.5L37.9 39.6L39.3 43.4L35.7 48.2L32.2 57.7L-1.4 57.7Z" fill="#900303"/>
<path d="M60.9 48.9L82.3 48.9L82.3 52.3L60.9 52.3Z" fill="#64ee8c"/>
</g>
<path d="M0.0 29.8C0.8 29.1 3.2 27.2 4.7 25.8C6.2 24.4 7.7 23.0 9.3 21.4C11.0 19.8 12.7 18.1 14.6 16.4C16.5 14.7 18.5 12.6 20.7 11.0C22.9 9.4 25.2 7.8 27.7 6.6C30.2 5.4 32.9 4.4 35.7 3.6C38.6 2.8 41.8 2.0 44.8 1.9C47.8 1.8 51.7 2.1 54.0 3.0C56.3 3.9 57.8 5.3 58.6 7.6C59.5 9.9 59.5 13.7 59.1 16.8C58.7 19.9 57.5 23.1 56.3 26.0C55.1 28.9 53.6 31.6 51.7 34.1C49.8 36.6 47.1 38.9 44.8 41.0C42.5 43.1 39.6 45.1 37.9 46.8C36.2 48.5 35.2 50.2 34.4 51.4C33.6 52.6 33.5 53.5 33.3 53.9" fill="none" stroke="#505050" stroke-width="0.70"/>
<path d="M0.0 42.2C0.5 43.2 2.4 46.0 3.3 47.9C4.2 49.8 5.2 52.9 5.6 53.9" fill="none" stroke="#505050" stroke-width="0.70"/>
<path d="M44.6 25.5C43.3 28.1 41.4 31.1 39.7 33.2C38.0 35.3 36.3 36.9 34.4 38.2C32.5 39.5 30.7 40.5 28.5 41.2C26.3 41.9 23.3 42.2 21.0 42.2C18.7 42.2 16.1 41.9 14.6 41.2C13.1 40.5 12.3 39.5 11.8 38.2C11.3 36.9 11.2 35.3 11.7 33.2C12.2 31.1 13.5 28.1 14.8 25.5C16.1 22.9 18.0 19.9 19.7 17.8C21.4 15.7 23.1 14.1 25.0 12.8C26.9 11.5 28.7 10.5 30.9 9.8C33.1 9.1 36.1 8.8 38.4 8.8C40.7 8.8 43.3 9.1 44.8 9.8C46.3 10.5 47.1 11.5 47.6 12.8C48.1 14.1 48.2 15.7 47.7 17.8C47.2 19.9 45.9 22.9 44.6 25.5Z" fill="none" stroke="#3e3e3e" stroke-width="0.80"/>
<path d="M39.2 26.0C38.5 27.4 37.4 29.1 36.5 30.3C35.6 31.5 34.6 32.3 33.6 33.0C32.6 33.7 31.6 34.3 30.4 34.7C29.2 35.1 27.6 35.3 26.4 35.3C25.2 35.3 23.8 35.1 23.0 34.7C22.2 34.3 21.8 33.7 21.5 33.0C21.2 32.3 21.1 31.5 21.4 30.3C21.7 29.1 22.4 27.4 23.2 26.0C23.9 24.6 25.0 22.9 25.9 21.7C26.8 20.5 27.8 19.7 28.8 19.0C29.8 18.3 30.8 17.7 32.0 17.3C33.2 16.9 34.8 16.7 36.0 16.7C37.2 16.7 38.6 16.9 39.4 17.3C40.2 17.7 40.6 18.3 40.9 19.0C41.2 19.7 41.3 20.5 41.0 21.7C40.7 22.9 40.0 24.6 39.2 26.0Z" fill="none" stroke="#2c2c2c" stroke-width="0.90"/>
<path d="M48.2 53.9C48.3 52.3 48.5 48.0 48.9 44.5C49.3 41.0 49.6 36.9 50.5 33.0C51.4 29.1 52.6 24.9 54.0 21.4C55.4 17.9 56.5 14.7 58.6 12.2C60.7 9.7 64.0 7.8 66.7 6.5C69.4 5.2 71.8 4.5 74.7 4.2C77.6 3.9 81.3 4.1 84.0 4.6C86.7 5.1 89.0 6.0 90.9 7.0C92.8 8.1 94.4 9.7 95.5 10.9C96.6 12.1 97.3 13.8 97.7 14.4" fill="none" stroke="#808080" stroke-width="0.70"/>
<path d="M97.7 23.9C97.4 25.1 96.5 28.9 95.7 31.4C95.0 33.9 94.4 36.5 93.2 38.7C92.0 40.9 90.5 42.6 88.6 44.5C86.7 46.4 83.5 48.9 81.6 50.2C79.7 51.5 78.3 51.9 77.0 52.5C75.7 53.1 74.2 53.7 73.6 53.9" fill="none" stroke="#808080" stroke-width="0.70"/>
<path d="M83.7 27.2C83.0 29.3 81.8 31.8 80.6 33.5C79.4 35.2 78.2 36.4 76.7 37.5C75.2 38.6 73.8 39.5 71.9 40.0C70.0 40.5 67.5 40.8 65.4 40.8C63.3 40.8 61.0 40.5 59.5 40.0C58.0 39.5 57.1 38.6 56.4 37.5C55.7 36.4 55.4 35.2 55.5 33.5C55.6 31.8 56.1 29.3 56.9 27.2C57.6 25.1 58.8 22.6 60.0 20.9C61.2 19.2 62.4 18.0 63.9 16.9C65.3 15.8 66.8 14.9 68.7 14.4C70.6 13.9 73.1 13.6 75.2 13.6C77.3 13.6 79.6 13.9 81.1 14.4C82.6 14.9 83.5 15.8 84.2 16.9C84.9 18.0 85.2 19.2 85.1 20.9C85.0 22.6 84.5 25.1 83.7 27.2Z" fill="none" stroke="#9aa0a6" stroke-width="0.70"/>
</g>
<path d="M0 31.05H97.5" stroke="#000" stroke-width="1.3" stroke-dasharray="2.2 2.0" fill="none"/>
<rect x="0" y="0" width="97.5" height="53.7" fill="none" stroke="#444" stroke-width="0.7"/>
<path d="M7.00 53.7v-1.6M17.50 53.7v-0.9M28.00 53.7v-1.6M38.50 53.7v-0.9M49.00 53.7v-1.6M59.50 53.7v-0.9M70.00 53.7v-1.6M80.50 53.7v-0.9M91.00 53.7v-1.6M0 52.12h0.9M0 48.65h0.9M0 45.82h0.9M0 43.42h0.9M0 41.35h0.9M0 39.51h0.9M0 37.88h0.9M0 27.10h1.6M0 20.80h0.9M0 16.32h1.6M0 12.85h0.9M0 10.02h1.6M0 7.62h0.9M0 5.55h1.6M0 3.71h0.9M0 2.08h1.6" stroke="#333" stroke-width="0.4" fill="none"/>
<text x="6.3" y="60.3" font-size="5.6" text-anchor="middle" fill="#111">-400</text>
<text x="27.3" y="60.3" font-size="5.6" text-anchor="middle" fill="#111">-200</text>
<text x="49.0" y="60.3" font-size="5.6" text-anchor="middle" fill="#111">0</text>
<text x="70.0" y="60.3" font-size="5.6" text-anchor="middle" fill="#111">200</text>
<text x="91.0" y="60.3" font-size="5.6" text-anchor="middle" fill="#111">400</text>
<text x="-0.7" y="3.5" font-size="4.8" text-anchor="end" fill="#111">100</text>
<text x="-0.7" y="6.9" font-size="4.8" text-anchor="end" fill="#111">80</text>
<text x="-0.7" y="11.4" font-size="4.8" text-anchor="end" fill="#111">60</text>
<text x="-0.7" y="17.7" font-size="4.8" text-anchor="end" fill="#111">40</text>
<text x="-0.7" y="28.5" font-size="4.8" text-anchor="end" fill="#111">20</text>
<text x="43.4" y="65.0" font-size="7.8" stroke="#000" stroke-width="0.1">Δ<tspan font-style="italic">x</tspan><tspan font-size="4.2" dy="-4.6" dx="0.4">+</tspan></text>
<text transform="translate(-7.8 30.4) rotate(-90)" font-size="7.2" stroke="#000" stroke-width="0.15"><tspan font-style="italic">y</tspan><tspan font-size="4.2" dy="-4.0" dx="0.3" stroke-width="0.1">+</tspan></text>
<text x="-13.2" y="-4.9" font-size="8.4" stroke="#000" stroke-width="0.15">(e)</text>
<text x="4.1" y="-5.2" font-size="6.3" fill="#222">&lt;<tspan font-style="italic">u</tspan><tspan font-size="3.9" dy="1.6">S,QS</tspan><tspan dy="-1.6">/</tspan><tspan font-style="italic">u</tspan><tspan font-size="3.9" dy="1.6">rms</tspan><tspan dy="-1.6">|</tspan><tspan font-style="italic">u</tspan><tspan font-size="4" dy="-2.2">′</tspan><tspan font-size="4" dy="3.6" dx="-1.1">L</tspan><tspan dy="-1.4">(NP)&gt;</tspan></text>
<rect x="56.5" y="-13.9" width="22.0" height="6.6" fill="url(#gc)"/>
<text x="56.7" y="-2.1" font-size="3.4" text-anchor="middle" fill="#222">-1.4</text>
<text x="76.1" y="-2.1" font-size="3.4" text-anchor="middle" fill="#222">-1</text>
<text x="80.2" y="13.0" font-size="7.7" text-anchor="middle" stroke="#000" stroke-width="0.28">QS</text>
</g>
<g transform="translate(250.40 187.00)">
<g clip-path="url(#cb)">
<g filter="url(#rg)">
<rect x="0.0" y="0.0" width="97.6" height="53.7" fill="#64ee8c"/>
<path d="M1.0 10.1L4.5 7.7L9.3 5.3L14.1 4.1L18.8 2.9L22.4 4.1L21.2 7.7L18.2 10.7L15.3 13.7L12.9 16.6L9.3 19.6L5.7 21.4L2.2 22.6L-1.4 22.6L-1.4 11.3Z" fill="#1fb0f4"/>
<path d="M24.2 10.1L26.6 6.5L30.1 5.3L33.1 7.1L31.9 10.7L28.3 13.1L25.4 12.5Z" fill="#1fb0f4"/>
<path d="M1.0 21.4L4.5 21.4L4.5 25.1L1.0 25.1Z" fill="#1fb0f4"/>
</g>
<path d="M-1.4 1.8L24.8 1.8L34.3 4.1L34.3 13.7L10.5 24.4L-1.4 25.6Z" fill="#64ee8c" filter="url(#s2)"/>
<path d="M-1.4 -0.6L37.9 -0.6L34.3 11.3L12.9 27.0L-1.4 27.0Z" fill="#1fb0f4" filter="url(#s3)"/>
<g filter="url(#rg)">
<path d="M10.5 1.2L20.0 1.2L20.0 2.9L10.5 2.9Z" fill="#ff9a00"/>
<path d="M37.9 10.7L41.4 8.3L46.2 8.9L50.6 7.7L51.4 8.9L51.4 20.8L50.6 20.8L46.2 19.6L43.8 16.0L40.2 14.8Z" fill="#ff9a00"/>
<path d="M34.3 27.0L35.5 22.6L37.9 19.6L40.2 18.4L42.0 20.8L40.8 27.0L40.8 28.6L34.3 28.6Z" fill="#ff9a00"/>
<path d="M14.1 25.0L17.6 25.0L17.6 27.5L14.1 27.5Z" fill="#ff9a00"/>
<path d="M53.7 -2.4L101.3 -2.4L101.3 5.3L91.8 4.7L85.9 4.1L79.9 4.4L75.2 5.9L70.4 8.9L66.8 11.9L63.3 11.3L60.9 8.3L58.5 5.3L54.9 2.9Z" fill="#ff9a00"/>
<path d="M62.1 2.0L66.6 2.0L66.6 5.8L62.1 5.8Z" fill="#ee0606"/>
<path d="M52.5 4.1L56.1 3.5L57.3 7.7L54.9 11.3L52.5 10.1Z" fill="#ff9a00"/>
<path d="M54.9 13.7L59.7 13.1L60.3 17.8L56.1 19.0Z" fill="#ff9a00"/>
<path d="M87.1 12.5L96.6 12.5L96.6 18.4L87.1 18.4Z" fill="#ff9a00"/>
<path d="M79.9 17.8L82.3 17.8L82.3 19.6L79.9 19.6Z" fill="#1fb0f4"/>
<path d="M88.2 20.8L93.0 20.8L93.0 23.8L88.2 23.8Z" fill="#1fb0f4"/>
<path d="M87.1 25.0L93.0 25.0L93.0 28.0L87.1 28.0Z" fill="#1fb0f4"/>
</g>
<path d="M46.6 4.1L101.3 4.1L101.3 27.0L46.6 27.0Z" fill="#ff9a00" filter="url(#s2)"/>
<path d="M22.4 11.3L50.6 4.1L50.6 27.0L22.4 27.0Z" fill="#ff9a00" filter="url(#s2)"/>
<path d="M53.7 -2.4L101.3 -2.4L101.3 5.3L70.4 8.9L60.9 8.3L54.9 2.9Z" fill="#64ee8c" filter="url(#s2)"/>
<path d="M41.8 4.1L57.3 1.8L59.7 11.3L57.3 27.0L41.8 27.0Z" fill="#ff9a00" filter="url(#s1)"/>
<g filter="url(#rg)">
<path d="M5.7 25.0L37.9 25.0L37.9 27.4L50.6 27.6L51.4 30.4L53.7 36.9L60.9 39.3L76.3 39.0L82.3 34.5L101.3 33.3L101.3 52.6L46.6 52.6L-1.4 52.6L-1.4 28.6L5.7 28.6Z" fill="#ff9a00"/>
<path d="M56.1 30.4L76.3 30.4L76.3 36.9L70.4 39.0L60.9 38.7L56.1 35.7Z" fill="#64ee8c"/>
<path d="M-1.4 32.1L10.5 31.5L22.4 32.1L29.5 33.9L34.3 38.1L39.1 39.3L46.2 40.5L51.4 41.1L70.4 40.5L101.3 40.7L101.3 47.6L70.4 47.8L51.4 47.8L50.6 48.3L34.3 48.3L34.3 52.6L50.6 52.6L51.4 52.4L101.3 52.4L101.3 57.1L-1.4 57.1Z" fill="#ee0606"/>
<path d="M-1.4 38.7L5.7 36.9L10.5 37.5L16.4 39.3L22.4 41.1L28.3 42.8L33.1 44.0L37.9 44.6L36.7 47.0L28.3 48.2L16.4 47.6L15.3 57.1L-1.4 57.1Z" fill="#900303"/>
<path d="M34.3 48.6L50.6 48.6L50.6 52.4L34.3 52.4Z" fill="#ff9a00"/>
<path d="M43.8 48.8L50.6 48.8L82.3 48.3L82.3 52.1L51.4 52.1L43.8 51.9Z" fill="#64ee8c"/>
<path d="M82.3 48.3L97.2 48.3L97.2 52.1L82.3 52.1Z" fill="#ffbe10"/>
</g>
<path d="M46.6 25.0L101.3 25.0L101.3 39.3L46.6 39.3Z" fill="#ff9a00" filter="url(#s2)"/>
<path d="M53.7 30.4L101.3 30.4L101.3 38.1L53.7 39.3Z" fill="#64ee8c" filter="url(#s2)"/>
<path d="M0.0 29.8C0.8 29.1 3.2 27.2 4.7 25.8C6.2 24.4 7.7 23.0 9.3 21.4C11.0 19.8 12.7 18.1 14.6 16.4C16.5 14.7 18.5 12.6 20.7 11.0C22.9 9.4 25.2 7.8 27.7 6.6C30.2 5.4 32.9 4.4 35.7 3.6C38.6 2.8 41.8 2.0 44.8 1.9C47.8 1.8 51.7 2.1 54.0 3.0C56.3 3.9 57.8 5.3 58.6 7.6C59.5 9.9 59.5 13.7 59.1 16.8C58.7 19.9 57.5 23.1 56.3 26.0C55.1 28.9 53.6 31.6 51.7 34.1C49.8 36.6 47.1 38.9 44.8 41.0C42.5 43.1 39.6 45.1 37.9 46.8C36.2 48.5 35.2 50.2 34.4 51.4C33.6 52.6 33.5 53.5 33.3 53.9" fill="none" stroke="#505050" stroke-width="0.70"/>
<path d="M0.0 42.2C0.5 43.2 2.4 46.0 3.3 47.9C4.2 49.8 5.2 52.9 5.6 53.9" fill="none" stroke="#505050" stroke-width="0.70"/>
<path d="M44.6 25.5C43.3 28.1 41.4 31.1 39.7 33.2C38.0 35.3 36.3 36.9 34.4 38.2C32.5 39.5 30.7 40.5 28.5 41.2C26.3 41.9 23.3 42.2 21.0 42.2C18.7 42.2 16.1 41.9 14.6 41.2C13.1 40.5 12.3 39.5 11.8 38.2C11.3 36.9 11.2 35.3 11.7 33.2C12.2 31.1 13.5 28.1 14.8 25.5C16.1 22.9 18.0 19.9 19.7 17.8C21.4 15.7 23.1 14.1 25.0 12.8C26.9 11.5 28.7 10.5 30.9 9.8C33.1 9.1 36.1 8.8 38.4 8.8C40.7 8.8 43.3 9.1 44.8 9.8C46.3 10.5 47.1 11.5 47.6 12.8C48.1 14.1 48.2 15.7 47.7 17.8C47.2 19.9 45.9 22.9 44.6 25.5Z" fill="none" stroke="#3e3e3e" stroke-width="0.80"/>
<path d="M39.2 26.0C38.5 27.4 37.4 29.1 36.5 30.3C35.6 31.5 34.6 32.3 33.6 33.0C32.6 33.7 31.6 34.3 30.4 34.7C29.2 35.1 27.6 35.3 26.4 35.3C25.2 35.3 23.8 35.1 23.0 34.7C22.2 34.3 21.8 33.7 21.5 33.0C21.2 32.3 21.1 31.5 21.4 30.3C21.7 29.1 22.4 27.4 23.2 26.0C23.9 24.6 25.0 22.9 25.9 21.7C26.8 20.5 27.8 19.7 28.8 19.0C29.8 18.3 30.8 17.7 32.0 17.3C33.2 16.9 34.8 16.7 36.0 16.7C37.2 16.7 38.6 16.9 39.4 17.3C40.2 17.7 40.6 18.3 40.9 19.0C41.2 19.7 41.3 20.5 41.0 21.7C40.7 22.9 40.0 24.6 39.2 26.0Z" fill="none" stroke="#2c2c2c" stroke-width="0.90"/>
<path d="M48.2 53.9C48.3 52.3 48.5 48.0 48.9 44.5C49.3 41.0 49.6 36.9 50.5 33.0C51.4 29.1 52.6 24.9 54.0 21.4C55.4 17.9 56.5 14.7 58.6 12.2C60.7 9.7 64.0 7.8 66.7 6.5C69.4 5.2 71.8 4.5 74.7 4.2C77.6 3.9 81.3 4.1 84.0 4.6C86.7 5.1 89.0 6.0 90.9 7.0C92.8 8.1 94.4 9.7 95.5 10.9C96.6 12.1 97.3 13.8 97.7 14.4" fill="none" stroke="#808080" stroke-width="0.70"/>
<path d="M97.7 23.9C97.4 25.1 96.5 28.9 95.7 31.4C95.0 33.9 94.4 36.5 93.2 38.7C92.0 40.9 90.5 42.6 88.6 44.5C86.7 46.4 83.5 48.9 81.6 50.2C79.7 51.5 78.3 51.9 77.0 52.5C75.7 53.1 74.2 53.7 73.6 53.9" fill="none" stroke="#808080" stroke-width="0.70"/>
<path d="M83.7 27.2C83.0 29.3 81.8 31.8 80.6 33.5C79.4 35.2 78.2 36.4 76.7 37.5C75.2 38.6 73.8 39.5 71.9 40.0C70.0 40.5 67.5 40.8 65.4 40.8C63.3 40.8 61.0 40.5 59.5 40.0C58.0 39.5 57.1 38.6 56.4 37.5C55.7 36.4 55.4 35.2 55.5 33.5C55.6 31.8 56.1 29.3 56.9 27.2C57.6 25.1 58.8 22.6 60.0 20.9C61.2 19.2 62.4 18.0 63.9 16.9C65.3 15.8 66.8 14.9 68.7 14.4C70.6 13.9 73.1 13.6 75.2 13.6C77.3 13.6 79.6 13.9 81.1 14.4C82.6 14.9 83.5 15.8 84.2 16.9C84.9 18.0 85.2 19.2 85.1 20.9C85.0 22.6 84.5 25.1 83.7 27.2Z" fill="none" stroke="#9aa0a6" stroke-width="0.70"/>
</g>
<path d="M0 31.05H97.5" stroke="#000" stroke-width="1.3" stroke-dasharray="2.2 2.0" fill="none"/>
<rect x="0" y="0" width="97.5" height="53.7" fill="none" stroke="#444" stroke-width="0.7"/>
<path d="M7.00 53.7v-1.6M17.50 53.7v-0.9M28.00 53.7v-1.6M38.50 53.7v-0.9M49.00 53.7v-1.6M59.50 53.7v-0.9M70.00 53.7v-1.6M80.50 53.7v-0.9M91.00 53.7v-1.6M0 52.12h0.9M0 48.65h0.9M0 45.82h0.9M0 43.42h0.9M0 41.35h0.9M0 39.51h0.9M0 37.88h0.9M0 27.10h1.6M0 20.80h0.9M0 16.32h1.6M0 12.85h0.9M0 10.02h1.6M0 7.62h0.9M0 5.55h1.6M0 3.71h0.9M0 2.08h1.6" stroke="#333" stroke-width="0.4" fill="none"/>
<text x="6.3" y="60.3" font-size="5.6" text-anchor="middle" fill="#111">-400</text>
<text x="27.3" y="60.3" font-size="5.6" text-anchor="middle" fill="#111">-200</text>
<text x="49.0" y="60.3" font-size="5.6" text-anchor="middle" fill="#111">0</text>
<text x="70.0" y="60.3" font-size="5.6" text-anchor="middle" fill="#111">200</text>
<text x="91.0" y="60.3" font-size="5.6" text-anchor="middle" fill="#111">400</text>
<text x="-0.7" y="3.5" font-size="4.8" text-anchor="end" fill="#111">100</text>
<text x="-0.7" y="6.9" font-size="4.8" text-anchor="end" fill="#111">80</text>
<text x="-0.7" y="11.4" font-size="4.8" text-anchor="end" fill="#111">60</text>
<text x="-0.7" y="17.7" font-size="4.8" text-anchor="end" fill="#111">40</text>
<text x="-0.7" y="28.5" font-size="4.8" text-anchor="end" fill="#111">20</text>
<text x="43.4" y="65.0" font-size="7.8" stroke="#000" stroke-width="0.1">Δ<tspan font-style="italic">x</tspan><tspan font-size="4.2" dy="-4.6" dx="0.4">+</tspan></text>
<text transform="translate(-7.8 30.4) rotate(-90)" font-size="7.2" stroke="#000" stroke-width="0.15"><tspan font-style="italic">y</tspan><tspan font-size="4.2" dy="-4.0" dx="0.3" stroke-width="0.1">+</tspan></text>
<text x="-13.2" y="-4.9" font-size="8.4" stroke="#000" stroke-width="0.15">(f)</text>
<text x="4.1" y="-5.2" font-size="6.3" fill="#222">&lt;<tspan font-style="italic">u</tspan><tspan font-size="3.9" dy="1.6">S,QS</tspan><tspan dy="-1.6">/</tspan><tspan font-style="italic">u</tspan><tspan font-size="3.9" dy="1.6">rms</tspan><tspan dy="-1.6">|</tspan><tspan font-style="italic">u</tspan><tspan font-size="4" dy="-2.2">′</tspan><tspan font-size="4" dy="3.6" dx="-1.1">L</tspan><tspan dy="-1.4">(NP)&gt;</tspan></text>
<rect x="56.5" y="-13.9" width="22.0" height="6.6" fill="url(#gc)"/>
<text x="56.7" y="-2.1" font-size="3.4" text-anchor="middle" fill="#222">-1.4</text>
<text x="76.1" y="-2.1" font-size="3.4" text-anchor="middle" fill="#222">-1</text>
<text x="83.0" y="12.0" font-size="7.1" text-anchor="middle" stroke="#000" stroke-width="0.28">k-QS</text>
</g>
</svg></body></html>
